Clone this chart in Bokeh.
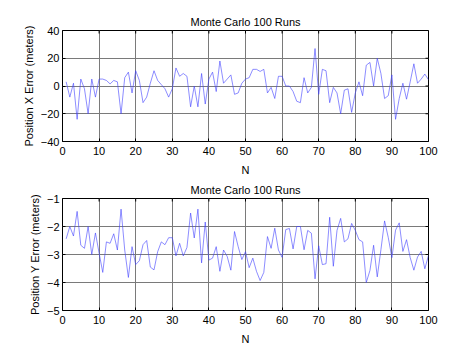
import math
from bokeh.plotting import figure
from bokeh.layouts import column
from bokeh.models import FixedTicker, Range1d
from bokeh.embed import file_html
from bokeh.resources import INLINE

runs = list(range(1, 101))

x_error = [3, -8, 2, -24, 5, -2, -20, 5, -8, 5,
           5, 4, 1.5, 4, 3, -20, 6, 10, -5, 11,
           4, -12, -8, 2, 11, 4, 1, -2, -8, -2,
           13, 7, 9, 7, -15, 0, -15, 9, -13, 5,
           10, -4, 18, 2, 5, 8, -6, -5, 2, 5,
           6, 12, 12, 10.5, 12, -5, -1, -9, 7, 7,
           0, 0, -4, -11, -12, 6, -5, -1, 27, -6,
           12, 11, -12, -1, -5, -20, -3, -2, -19, -5,
           3, -7, 15, 17, 0, 20, 9, -9, -7, 8,
           -24, -9, 2, -9.5, 3, 16, 2, 5, 8.6, 4.5]

y_error = [-2.44, -2.0, -2.34, -1.46, -2.67, -2.78, -2.0, -3.0, -2.23, -2.95,
           -3.64, -2.55, -2.6, -2.26, -2.84, -1.38, -2.84, -3.82, -2.72, -3.36,
           -3.22, -2.65, -2.5, -3.45, -3.55, -2.9, -2.55, -2.65, -2.4, -2.4,
           -3.05, -2.6, -3.05, -2.75, -1.52, -2.41, -1.38, -3.3, -1.84, -3.2,
           -3.13, -2.72, -3.6, -2.84, -3.07, -3.56, -2.18, -2.72, -3.18, -2.9,
           -3.47, -3.13, -3.6, -3.93, -3.64, -2.36, -2.78, -2.06, -2.84, -3.1,
           -2.11, -2.07, -2.8, -2.0, -2.0, -2.83, -2.14, -2.24, -3.87, -2.69,
           -3.36, -3.33, -1.67, -3.42, -2.14, -1.71, -2.55, -2.44, -1.89, -2.14,
           -2.47, -2.55, -4.0, -3.57, -2.67, -3.8, -2.83, -1.8, -2.39, -3.11,
           -2.13, -1.87, -2.89, -2.47, -3.11, -3.56, -3.09, -2.89, -3.51, -3.03]

title_text = "Monte Carlo 100 Runs"
x_label = "N"
x_ticks = [0, 10, 20, 30, 40, 50, 60, 70, 80, 90, 100]
x_limits = (0, 100)
top_ylabel = "Position X Error (meters)"
top_yticks = [-40, -20, 0, 20, 40]
top_limits = (-40, 40)
bot_ylabel = "Position Y Error (meters)"
bot_yticks = [-5, -4, -3, -2, -1]
bot_limits = (-5, -1)

FONT = "Liberation Sans"


def style_axis(ax, ticks):
    ax.ticker = FixedTicker(ticks=ticks)
    ax.major_tick_in = 3
    ax.major_tick_out = 0
    ax.minor_tick_line_color = None
    ax.axis_line_color = None
    ax.major_tick_line_color = "black"
    ax.major_label_text_font = FONT
    ax.major_label_text_font_size = "11px"
    ax.major_label_text_color = "black"
    ax.major_label_standoff = 3
    ax.axis_label_text_font = FONT
    ax.axis_label_text_font_size = "11px"
    ax.axis_label_text_font_style = "normal"
    ax.axis_label_text_color = "black"


def make(ys, ylabel, yr, yticks, height, top_border, bottom_border):
    p = figure(width=466, height=height, x_range=Range1d(*x_limits),
               y_range=Range1d(*yr), output_backend="svg",
               toolbar_location=None, min_border_left=62,
               min_border_right=38, min_border_top=top_border,
               min_border_bottom=bottom_border)
    p.title.text = title_text
    p.title.align = "center"
    p.title.text_font = FONT
    p.title.text_font_size = "11px"
    p.title.text_font_style = "normal"
    p.title.text_color = "black"
    p.title.standoff = 5
    p.title.offset = 0
    p.outline_line_color = "black"
    p.outline_line_width = 1
    p.background_fill_color = "white"
    p.border_fill_color = "white"

    style_axis(p.xaxis[0], x_ticks)
    style_axis(p.yaxis[0], yticks)
    p.xaxis.axis_label = x_label
    p.yaxis.axis_label = ylabel
    p.xaxis.major_label_standoff = 5
    p.xaxis.axis_label_standoff = 6
    p.yaxis.axis_label_standoff = 3

    p.xgrid.ticker = FixedTicker(ticks=x_ticks)
    p.ygrid.ticker = FixedTicker(ticks=yticks)
    for g in (p.xgrid[0], p.ygrid[0]):
        g.grid_line_color = "#7a7a7a"
        g.grid_line_width = 1
        g.grid_line_alpha = 1.0

    # inward ticks on the top and right edges (half of each dash is clipped)
    p.scatter(x_ticks, [yr[1]] * len(x_ticks), marker="dash", size=6,
              angle=math.pi / 2, line_color="black", line_width=1)
    p.scatter([x_limits[1]] * len(yticks), yticks, marker="dash", size=6,
              line_color="black", line_width=1)

    p.line(runs, ys, line_color="#4040ff", line_width=0.8, line_alpha=0.75)
    return p


p1 = make(x_error, top_ylabel, top_limits, top_yticks, 178, 30, 32)
p2 = make(y_error, bot_ylabel, bot_limits, bot_yticks, 169, 20, 33)

layout = column(p1, p2, spacing=0)
open("out.html", "w").write(file_html(layout, INLINE))
